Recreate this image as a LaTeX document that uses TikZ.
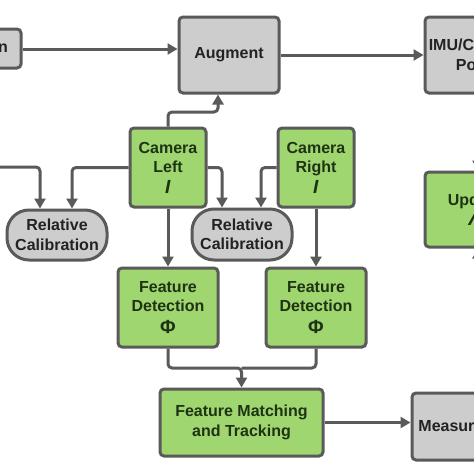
\documentclass[tikz,border=0pt]{standalone}
\usepackage{fontspec}
\setmainfont{Liberation Sans}
\usetikzlibrary{arrows.meta}
\definecolor{gfill}{HTML}{9FD66F}
\definecolor{grfill}{HTML}{CDCDCD}
\definecolor{edge}{HTML}{5A5A5A}
\definecolor{gtext}{HTML}{1F3314}
\definecolor{ktext}{HTML}{222222}
\newcommand{\symb}[1]{{\fontsize{19}{19.5}\selectfont #1}}
\tikzset{
  box/.style={draw=edge, line width=3pt, rounded corners=4pt, align=center,
    font=\fontsize{16}{19.5}\selectfont\bfseries, inner sep=0pt},
  greenbox/.style={box, fill=gfill, text=gtext},
  graybox/.style={box, fill=grfill, text=ktext},
  stadium/.style={box, fill=grfill, text=ktext, rounded corners=22pt},
  conn/.style={draw=edge, line width=3pt, rounded corners=4pt, line join=round},
  arr/.style={conn, -{Triangle[length=10pt,width=11pt]}}
}
\begin{document}
\begin{tikzpicture}[x=1pt,y=-1pt]
\useasboundingbox (0,0) rectangle (474,474);
\clip (0,0) rectangle (474,474);
\fill[white] (0,0) rectangle (474,474);
% nodes
\node[graybox, minimum width=100pt, minimum height=39pt] (prev) at (-29,48.5) {};
\node[font=\fontsize{16}{19.5}\selectfont\bfseries, text=ktext, anchor=east, inner sep=0pt] (prevtxt) at (8,48.5) {n};
\node[graybox, minimum width=100pt, minimum height=76pt] (aug) at (229,55) {Augment};
\node[graybox, minimum width=100pt, minimum height=76pt] (imu) at (475,55) {IMU/Camera\\Pose};
\node[greenbox, minimum width=100pt, minimum height=75pt] (upd) at (475,209.5) {Update\\[1pt]\symb{\textit{Λ}}};
\node[graybox, minimum width=116pt, minimum height=67pt] (meas) at (470,426.5) {Measurement};
\node[greenbox, minimum width=76pt, minimum height=79pt] (camL) at (168,167.5) {Camera\\Left\\[1pt]\symb{\textit{I}}};
\node[greenbox, minimum width=76pt, minimum height=79pt] (camR) at (316,167.5) {Camera\\Right\\[1pt]\symb{\textit{I}}};
\node[stadium, minimum width=100pt, minimum height=50pt] (rcL) at (57,235) {Relative\\Calibration};
\node[stadium, minimum width=100pt, minimum height=51pt] (rcR) at (242,234.5) {Relative\\Calibration};
\node[greenbox, minimum width=100pt, minimum height=79pt] (fdL) at (168,307.5) {Feature\\Detection\\[2pt]\symb{Φ}};
\node[greenbox, minimum width=100pt, minimum height=79pt] (fdR) at (316,307.5) {Feature\\Detection\\[2pt]\symb{Φ}};
\node[greenbox, minimum width=163pt, minimum height=67pt] (fm) at (241.5,422.5) {Feature Matching\\and Tracking};
% coordinates
\coordinate (inL) at (-2,167);
\coordinate (j1) at (168,112);
\coordinate (mg) at (241.5,368);
% connectors
\draw[arr] (prev.east |- 0,49) -- (aug.west |- 0,49);
\draw[arr] (aug.east) -- (imu.west);
\draw[arr] (camL.north) -- (j1) -| ([xshift=-11pt]aug.south);
\draw[arr] (inL) -| ([xshift=-17pt]rcL.north);
\draw[arr] (camL.west) -| ([xshift=15pt]rcL.north);
\draw[arr] (camL.east) -| ([xshift=-20pt]rcR.north);
\draw[arr] (camR.west) -| ([xshift=19pt]rcR.north);
\draw[arr] (camL.south) -- (fdL.north);
\draw[arr] (camR.south) -- (fdR.north);
\draw[conn] (fdR.south) |- (mg);
\draw[arr] (fdL.south) |- (mg) -- (fm.north);
\draw[arr] (fm.east) -- (meas.west |- fm.east);
\draw[arr] ([xshift=3pt]imu.south) -- ([xshift=3pt]upd.north);
\draw[arr] ([xshift=8pt]meas.north) -- ([xshift=3pt]upd.south);
\end{tikzpicture}
\end{document}
